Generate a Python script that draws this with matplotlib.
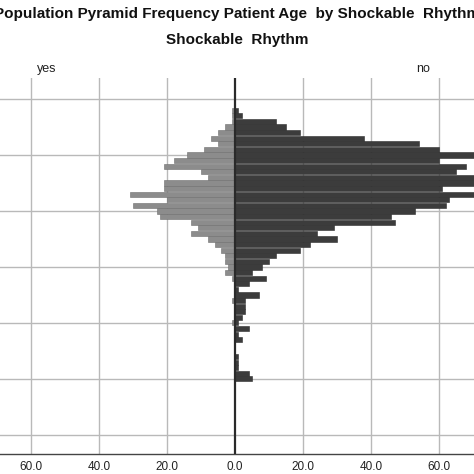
import matplotlib
matplotlib.use("Agg")
import matplotlib.pyplot as plt

# age bins (bar centres), bottom to top
ages = [0, 2, 4, 6, 8, 10, 12, 14, 16, 18,
        20, 22, 24, 26, 28, 30, 32, 34, 36, 38,
        40, 42, 44, 46, 48, 50, 52, 54, 56, 58,
        60, 62, 64, 66, 68, 70, 72, 74, 76, 78,
        80, 82, 84, 86, 88, 90, 92, 94, 96]

# frequency, shockable rhythm = yes (left side)
yes_counts = [0, 0, 0, 0, 0, 0, 0, 0, 0, 0,
              1, 0, 0, 0, 1, 0, 0, 0, 1, 3,
              2, 3, 3, 4, 6, 8, 13, 11, 13, 22,
              23, 30, 20, 31, 21, 21, 8, 10, 21, 18,
              14, 9, 5, 7, 5, 3, 1, 1, 1]

# frequency, shockable rhythm = no (right side)
no_counts = [5, 4, 1, 1, 1, 0, 0, 2, 1, 4,
             1, 2, 3, 3, 3, 7, 1, 4, 9, 5,
             8, 10, 12, 19, 22, 30, 24, 29, 47, 46,
             53, 62, 63, 72, 61, 72, 72, 65, 68, 60,
             73, 60, 54, 38, 19, 15, 12, 2, 1]

x_ticks = [-60, -40, -20, 0, 20, 40, 60]
x_tick_labels = ["60.0", "40.0", "20.0", "0.0", "20.0", "40.0", "60.0"]
y_grid = [-20, 0, 20, 40, 60, 80, 100]

plt.rcParams["font.family"] = ["Liberation Sans", "DejaVu Sans"]

fig = plt.figure(figsize=(4.74, 4.74), dpi=100)
ax = fig.add_axes([0.0, 0.0422, 1.0, 0.7932])

# grid
for g in y_grid:
    ax.axhline(g, color="#b9b9b9", lw=1.0, zorder=0)
for t in x_ticks:
    if t != 0:
        ax.axvline(t, color="#b9b9b9", lw=1.0, zorder=0)

# bars
ax.barh(ages, [-v for v in yes_counts], height=1.8, color="#8c8c8c",
        edgecolor="#6e6e6e", linewidth=0.4, zorder=2)
ax.barh(ages, no_counts, height=1.8, color="#3c3c3c",
        edgecolor="#2c2c2c", linewidth=0.4, zorder=2)

# centre line
ax.axvline(0, color="#2a2a2a", lw=1.6, zorder=3)

ax.set_xlim(-69.1, 70.3)
ax.set_ylim(-26.8, 107.5)

ax.set_xticks(x_ticks)
ax.set_xticklabels(x_tick_labels, fontsize=8.5, color="#222222")
ax.tick_params(axis="x", length=0, pad=5)
ax.set_yticks([])

for side in ["top", "left", "right"]:
    ax.spines[side].set_visible(False)
ax.spines["bottom"].set_color("#444444")
ax.spines["bottom"].set_linewidth(1.0)

# titles and panel labels
fig.text(0.5, 1 - 14 / 474, "Population Pyramid Frequency Patient Age  by Shockable  Rhythm",
         ha="center", va="center", fontsize=11, fontweight="bold", color="#111111")
fig.text(0.5, 1 - 40 / 474, "Shockable  Rhythm",
         ha="center", va="center", fontsize=11, fontweight="bold", color="#111111")
fig.text(47 / 474, 1 - 69 / 474, "yes", ha="center", va="center",
         fontsize=9, color="#222222")
fig.text(423 / 474, 1 - 69 / 474, "no", ha="center", va="center",
         fontsize=9, color="#222222")

fig.savefig("out.png", dpi=100)
